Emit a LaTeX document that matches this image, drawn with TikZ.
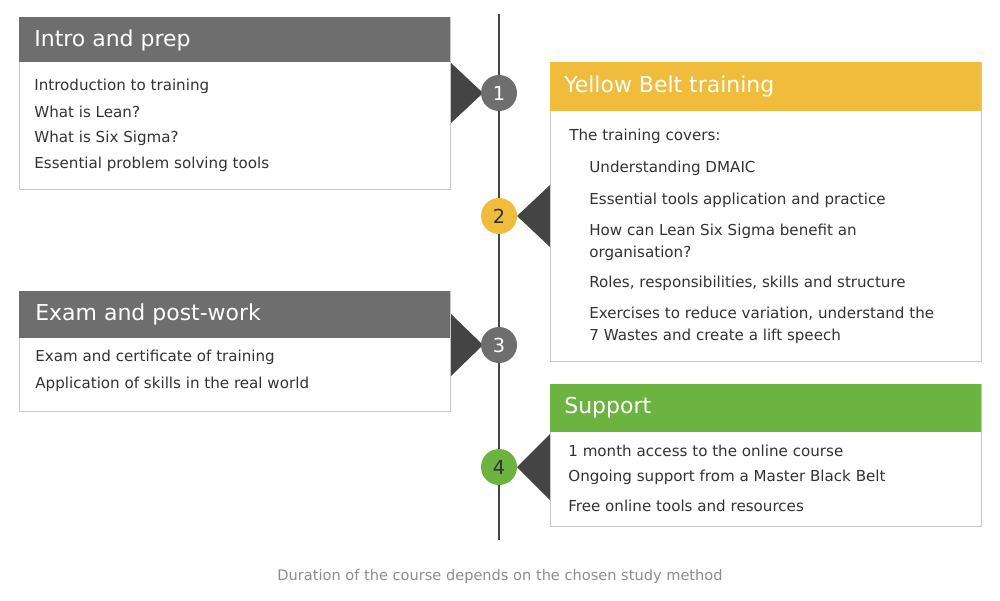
\documentclass[tikz,border=0pt]{standalone}
\usepackage{fontspec}
\setmainfont{DejaVu Sans}
\usetikzlibrary{positioning}
\definecolor{hdgray}{HTML}{6E6E6E}
\definecolor{hdyellow}{HTML}{F0BC3C}
\definecolor{hdgreen}{HTML}{6DB33F}
\definecolor{linegray}{HTML}{444444}
\definecolor{boxline}{HTML}{C8C8C8}
\definecolor{txt}{HTML}{333333}
\tikzset{
  x=0.02cm, y=-0.02cm,
  panel/.style={draw=boxline, line width=0.6pt, fill=white, anchor=north west, inner sep=0pt},
  header/.style={anchor=north west, inner sep=0pt},
  title/.style={anchor=west, text=white, font=\fontsize{12.5}{14}\selectfont, inner sep=0pt},
  item/.style={anchor=west, text=txt, font=\fontsize{8.6}{12.5}\selectfont, inner sep=0pt, align=left},
  step/.style={},
  stepdot/.style={circle, minimum size=0.72cm, inner sep=0pt, text=white, font=\fontsize{11}{12}\selectfont},
  pointer/.style={fill=linegray}
}
\begin{document}
\begin{tikzpicture}
  \useasboundingbox (0,0) rectangle (1000,600);
  % time line
  \draw[linegray, line width=1.6pt] (499,14) -- (499,540);

  % box 1
  \fill[pointer] (450,62) -- (483,93) -- (450,124) -- cycle;
  \node[panel, minimum width=8.62cm, minimum height=3.44cm] (b1) at (19,17) {};
  \node[header, fill=hdgray, minimum width=8.62cm, minimum height=0.9cm] (h1) at (19,17) {};
  \node[title] (t1) at (34,40) {Intro and prep};
  \node[item] (i11) at (34,86) {Introduction to training};
  \node[item] (i12) at (34,112) {What is Lean?};
  \node[item] (i13) at (34,138) {What is Six Sigma?};
  \node[item] (i14) at (34,164) {Essential problem solving tools};
  \node[stepdot, fill=hdgray] (s1) at (499,93) {1};

  % box 2
  \fill[pointer] (550,185) -- (517,216) -- (550,247) -- cycle;
  \node[panel, minimum width=8.62cm, minimum height=5.98cm] (b2) at (550,62) {};
  \node[header, fill=hdyellow, minimum width=8.62cm, minimum height=0.98cm] (h2) at (550,62) {};
  \node[title] (t2) at (564,86) {Yellow Belt training};
  \node[item] (i21) at (569,136) {The training covers:};
  \node[item] (i22) at (589,168) {Understanding DMAIC};
  \node[item] (i23) at (589,200) {Essential tools application and practice};
  \node[item] (i24) at (589,242) {How can Lean Six Sigma benefit an\\organisation?};
  \node[item] (i25) at (589,283) {Roles, responsibilities, skills and structure};
  \node[item] (i26) at (589,325) {Exercises to reduce variation, understand the\\7 Wastes and create a lift speech};
  \node[stepdot, fill=hdyellow, text=txt] (s2) at (499,216) {2};

  % box 3
  \fill[pointer] (450,313) -- (483,345) -- (450,377) -- cycle;
  \node[panel, minimum width=8.62cm, minimum height=2.4cm] (b3) at (19,291) {};
  \node[header, fill=hdgray, minimum width=8.62cm, minimum height=0.94cm] (h3) at (19,291) {};
  \node[title] (t3) at (35,314) {Exam and post-work};
  \node[item] (i31) at (35,357) {Exam and certificate of training};
  \node[item] (i32) at (35,384) {Application of skills in the real world};
  \node[stepdot, fill=hdgray] (s3) at (499,345) {3};

  % box 4
  \fill[pointer] (550,434) -- (517,467) -- (550,500) -- cycle;
  \node[panel, minimum width=8.62cm, minimum height=2.84cm] (b4) at (550,384) {};
  \node[header, fill=hdgreen, minimum width=8.62cm, minimum height=0.96cm] (h4) at (550,384) {};
  \node[title] (t4) at (564,408) {Support};
  \node[item] (i41) at (568,451) {1 month access to the online course};
  \node[item] (i42) at (568,477) {Ongoing support from a Master Black Belt};
  \node[item] (i43) at (568,506) {Free online tools and resources};
  \node[stepdot, fill=hdgreen, text=txt] (s4) at (499,467) {4};

  % footer
  \node[text=black!45, font=\fontsize{8.3}{10}\selectfont] (foot) at (500,576) {Duration of the course depends on the chosen study method};
\end{tikzpicture}
\end{document}
